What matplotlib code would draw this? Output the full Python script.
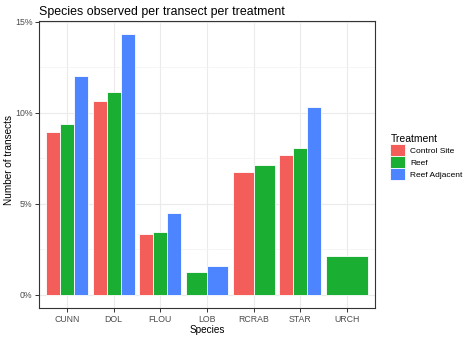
import numpy as np
import matplotlib
matplotlib.use("Agg")
import matplotlib.pyplot as plt
from matplotlib.patches import Patch
from matplotlib.ticker import FuncFormatter, MultipleLocator

plt.rcParams['font.family'] = ['Liberation Sans', 'DejaVu Sans']

species = ['CUNN', 'DOL', 'FLOU', 'LOB', 'RCRAB', 'STAR', 'URCH']
treatments = ['Control Site', 'Reef', 'Reef Adjacent']
control = [8.94, 10.66, 3.33, np.nan, 6.78, 7.68, np.nan]
reef = [9.40, 11.14, 3.48, 1.25, 7.13, 8.06, 2.16]
adjacent = [12.03, 14.32, 4.49, 1.59, np.nan, 10.33, np.nan]
colors = ['#F35E5A', '#1AAF33', '#4D84FF']

series = [control, reef, adjacent]

fig = plt.figure(figsize=(4.74, 3.38), dpi=100)
ax = fig.add_axes([39 / 474, 30 / 338, 336 / 474, 286.7 / 338])

# dodge like ggplot: present groups share the 0.9 slot
for i, sp in enumerate(species):
    present = [k for k in range(3) if not np.isnan(series[k][i])]
    w = 0.9 / len(present)
    for j, k in enumerate(present):
        x = i + 1 - 0.45 + (j + 0.5) * w
        ax.bar(x, series[k][i], width=w, color=colors[k],
               edgecolor='white', linewidth=0.6, zorder=3)

ymax = np.nanmax(adjacent)
ax.set_xlim(0.4, len(species) + 0.6)
ax.set_ylim(-0.05 * ymax, 1.05 * ymax)
ax.set_xticks(range(1, len(species) + 1))
ax.set_xticklabels(species)
ax.yaxis.set_major_locator(MultipleLocator(5))
ax.yaxis.set_minor_locator(MultipleLocator(2.5))
ax.yaxis.set_major_formatter(FuncFormatter(lambda v, p: f'{v:.0f}%'))

ax.grid(True, which='major', color='#EBEBEB', linewidth=0.8, zorder=0)
ax.grid(True, which='minor', axis='y', color='#F2F2F2', linewidth=0.5, zorder=0)
ax.set_axisbelow(True)
for s in ax.spines.values():
    s.set_color('#333333')
    s.set_linewidth(0.8)
ax.tick_params(which='major', length=2.8, width=0.7, color='#333333',
               labelcolor='#4D4D4D', labelsize=6.3, pad=2)
ax.tick_params(which='minor', length=0)

ax.set_xlabel('Species', fontsize=7.2, labelpad=1)
ax.set_ylabel('Number of transects', fontsize=7.2)
ax.yaxis.set_label_coords(-25 / 336, 0.516)
fig.text(39 / 474, 1 - 15 / 338, 'Species observed per transect per treatment',
         fontsize=8.9, ha='left', va='baseline')

handles = [Patch(facecolor=c, edgecolor='white', linewidth=0.6) for c in colors]
leg = fig.legend(handles, treatments, loc='upper left',
                 bbox_to_anchor=(387 / 474, 1 - 131 / 338), frameon=False,
                 title='Treatment', fontsize=6, title_fontsize=7.5,
                 handlelength=1.8, handleheight=1.8, labelspacing=0.0,
                 handletextpad=0.6, borderaxespad=0)
leg._legend_box.align = 'left'

fig.savefig('out.png', dpi=100)
